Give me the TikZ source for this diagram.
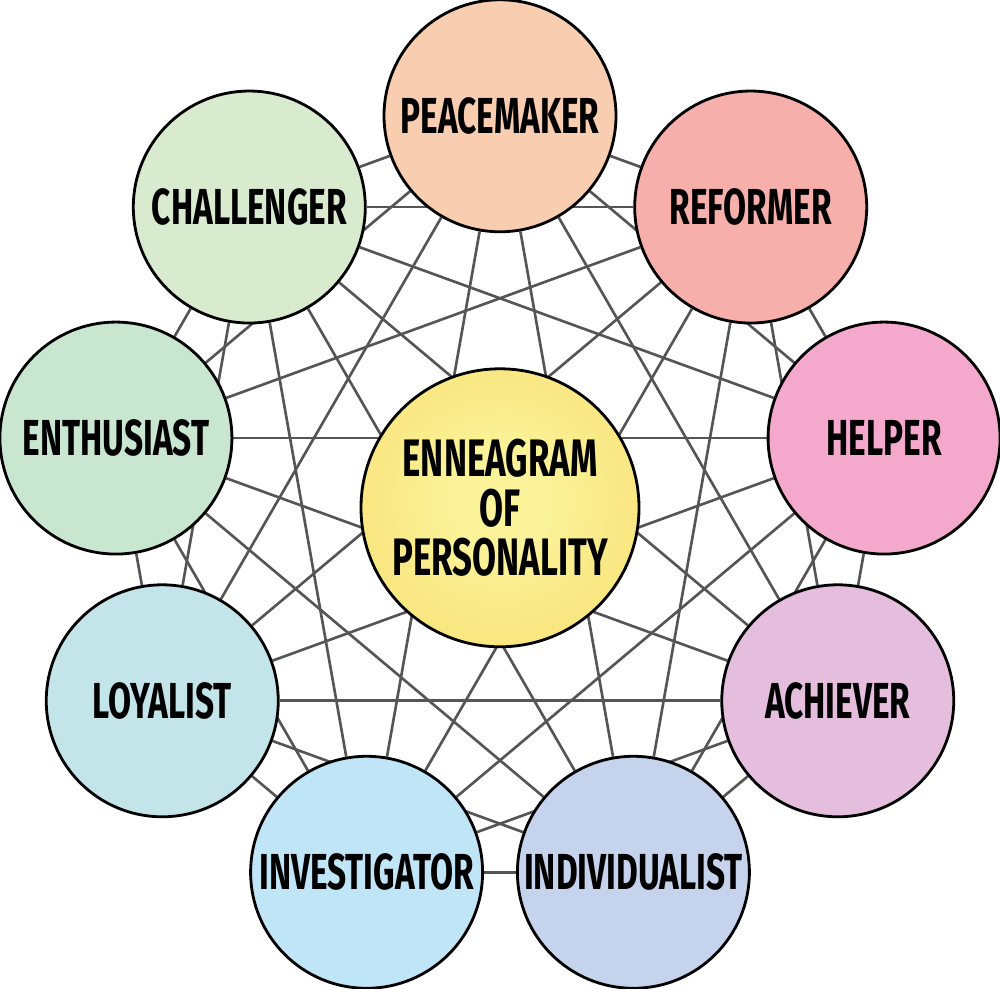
\documentclass[tikz,border=0pt]{standalone}
\usepackage{fontspec}
\usetikzlibrary{backgrounds}
\newfontfamily\brushfont[FakeStretch=0.66]{Fira Sans}

\definecolor{peach}{HTML}{F9CDB0}
\definecolor{salmon}{HTML}{F6AFAA}
\definecolor{rosepink}{HTML}{F3A8CC}
\definecolor{lilac}{HTML}{E4BEDC}
\definecolor{lavblue}{HTML}{C5D4EC}
\definecolor{skyblue}{HTML}{C0E5F7}
\definecolor{aqua}{HTML}{C3E5EA}
\definecolor{mint}{HTML}{C9E6D0}
\definecolor{sage}{HTML}{D9EBCF}
\definecolor{chordgray}{HTML}{555555}
\definecolor{coreinner}{HTML}{FAF39A}
\definecolor{coremid}{HTML}{F9E37A}
\definecolor{coreouter}{HTML}{F8D158}

\pgfdeclareradialshading{coreball}{\pgfpoint{0bp}{2bp}}{color(0bp)=(coreinner); color(8bp)=(coreinner); color(30bp)=(coremid); color(50bp)=(coreouter)}

\tikzset{
    typebox/.style={circle, draw=black, line width=0.8pt, minimum size=2.32cm, inner sep=0pt,
        align=center, font=\brushfont\bfseries\fontsize{14.4}{14}\selectfont},
    chord/.style={draw=chordgray, line width=0.75pt}
}

\begin{document}
\begin{tikzpicture}
    \useasboundingbox (-5,-4.822) rectangle (5,5.058);

    \node[typebox, fill=peach]    (t9) at (90:3.9)   {PEACEMAKER};     % 9
    \node[typebox, fill=salmon]   (t1) at (50:3.9)   {REFORMER};       % 1
    \node[typebox, fill=rosepink] (t2) at (10:3.9)   {HELPER};         % 2
    \node[typebox, fill=lilac]    (t3) at (-30:3.9)  {ACHIEVER};       % 3
    \node[typebox, fill=lavblue]  (t4) at (-70:3.9)  {INDIVIDUALIST};  % 4
    \node[typebox, fill=skyblue]  (t5) at (-110:3.9) {INVESTIGATOR};   % 5
    \node[typebox, fill=aqua]     (t6) at (-150:3.9) {LOYALIST};       % 6
    \node[typebox, fill=mint]     (t7) at (170:3.9)  {ENTHUSIAST};     % 7
    \node[typebox, fill=sage]     (t8) at (130:3.9)  {CHALLENGER};     % 8

    \node[typebox, minimum size=2.78cm, shading=coreball,
        font=\brushfont\bfseries\fontsize{15}{14}\selectfont] (core) at (0,-0.02) {ENNEAGRAM\\OF\\PERSONALITY};

    % every type linked to every other type
    \begin{pgfonlayer}{background}
        \foreach \i in {1,...,8} {
            \pgfmathtruncatemacro\next{\i+1}
            \foreach \j in {\next,...,9}
                \draw[chord] (t\i) -- (t\j);
        }
    \end{pgfonlayer}
\end{tikzpicture}
\end{document}
